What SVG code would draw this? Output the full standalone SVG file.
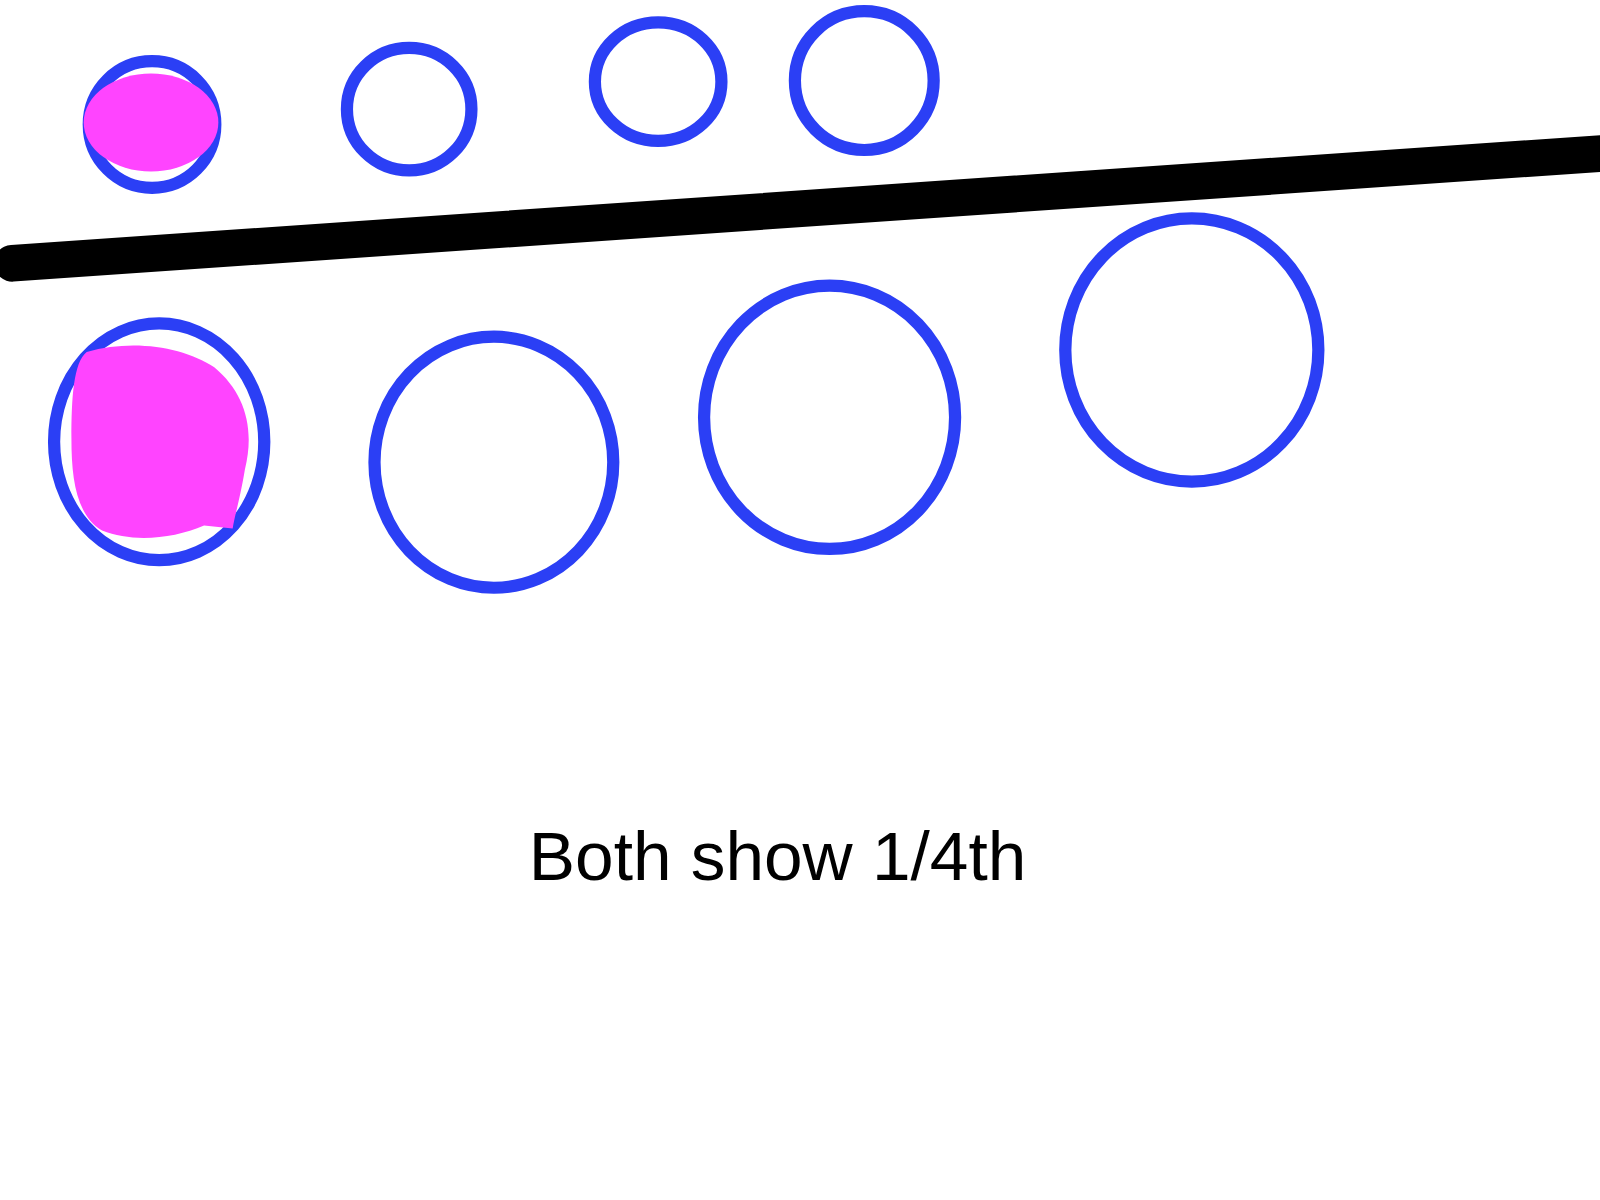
<svg xmlns="http://www.w3.org/2000/svg" width="1600" height="1200" viewBox="0 0 1600 1200">
<style>.c{fill:none;stroke:#2b3ff5;stroke-width:12}.p{fill:#ff44ff}</style>
<rect width="1600" height="1200" fill="#fff"/>
<g transform="scale(1.0204)">
<g id="top1"><ellipse class="c" cx="149" cy="122" rx="62" ry="62"/><ellipse class="p" cx="148" cy="120" rx="66" ry="48"/></g>
<g id="top2"><ellipse class="c" cx="401" cy="107" rx="61" ry="60"/></g>
<g id="top3"><ellipse class="c" cx="645" cy="80" rx="62" ry="58"/></g>
<g id="top4"><ellipse class="c" cx="847" cy="79" rx="68" ry="68"/></g>
<g id="line"><line x1="12" y1="258" x2="1575" y2="150" stroke="#000" stroke-width="36" stroke-linecap="round"/></g>
<g id="bot1"><ellipse class="c" cx="156" cy="433" rx="103" ry="116"/><path class="p" d="M85,345 C130,332 180,340 210,360 C240,385 250,420 240,460 C235,490 230,505 228,518 L200,515 C170,528 130,532 100,520 C75,505 70,470 70,430 C70,390 72,355 85,345Z"/></g>
<g id="bot2"><ellipse class="c" cx="484" cy="453" rx="117" ry="123"/></g>
<g id="bot3"><ellipse class="c" cx="813" cy="409" rx="123" ry="129"/></g>
<g id="bot4"><ellipse class="c" cx="1168" cy="343" rx="124" ry="129"/></g>
<text x="762" y="862" text-anchor="middle" font-family="Liberation Sans, Arial, sans-serif" font-size="68">Both show 1/4th</text>
</g>
</svg>
